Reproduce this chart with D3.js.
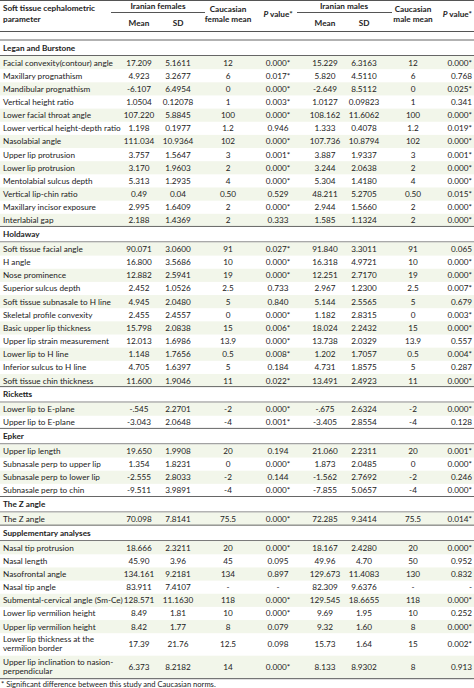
<!DOCTYPE html><html><head><meta charset="utf-8">
<script src="https://cdn.jsdelivr.net/npm/d3@7/dist/d3.min.js"></script>
<style>body{margin:0;background:#fff}text{font-family:Lato,"Open Sans",sans-serif;fill:#222}</style></head><body>
<svg id="c" width="474" height="688"></svg>
<script>
const columns=["Mean","SD","Caucasian female mean","P value*","Mean","SD","Caucasian male mean","P value*"];
const sections=["Legan and Burstone","Holdaway","Ricketts","Epker","The Z angle","Supplementary analyses"];
const rows=[
[0,"Facial convexity(contour) angle","17.209","5.1611","12","0.000*","15.229","6.3163","12","0.000*"],
[0,"Maxillary prognathism","4.923","3.2677","6","0.017*","5.820","4.5110","6","0.768"],
[0,"Mandibular prognathism","-6.107","6.4954","0","0.000*","-2.649","8.5112","0","0.025*"],
[0,"Vertical height ratio","1.0504","0.12078","1","0.003*","1.0127","0.09823","1","0.341"],
[0,"Lower facial throat angle","107.220","5.8845","100","0.000*","108.162","11.6062","100","0.000*"],
[0,"Lower vertical height-depth ratio","1.198","0.1977","1.2","0.946","1.333","0.4078","1.2","0.019*"],
[0,"Nasolabial angle","111.034","10.9364","102","0.000*","107.736","10.8794","102","0.000*"],
[0,"Upper lip protrusion","3.757","1.5647","3","0.001*","3.887","1.9337","3","0.001*"],
[0,"Lower lip protrusion","3.170","1.9603","2","0.000*","3.244","2.0638","2","0.000*"],
[0,"Mentolabial sulcus depth","5.313","1.2935","4","0.000*","5.304","1.4180","4","0.000*"],
[0,"Vertical lip-chin ratio","0.49","0.04","0.50","0.529","48.211","5.2705","0.50","0.015*"],
[0,"Maxillary incisor exposure","2.995","1.6409","2","0.000*","2.944","1.5660","2","0.000*"],
[0,"Interlabial gap","2.188","1.4369","2","0.333","1.585","1.1324","2","0.000*"],
[1,"Soft tissue facial angle","90.071","3.0600","91","0.027*","91.840","3.3011","91","0.065"],
[1,"H angle","16.800","3.5686","10","0.000*","16.318","4.9721","10","0.000*"],
[1,"Nose prominence","12.882","2.5941","19","0.000*","12.251","2.7170","19","0.000*"],
[1,"Superior sulcus depth","2.452","1.0526","2.5","0.733","2.967","1.2300","2.5","0.007*"],
[1,"Soft tissue subnasale to H line","4.945","2.0480","5","0.840","5.144","2.5565","5","0.679"],
[1,"Skeletal profile convexity","2.455","2.4557","0","0.000*","1.182","2.8315","0","0.003*"],
[1,"Basic upper lip thickness","15.798","2.0838","15","0.006*","18.024","2.2432","15","0.000*"],
[1,"Upper lip strain measurement","12.013","1.6986","13.9","0.000*","13.738","2.0329","13.9","0.557"],
[1,"Lower lip to H line","1.148","1.7656","0.5","0.008*","1.202","1.7057","0.5","0.004*"],
[1,"Inferior sulcus to H line","4.705","1.6397","5","0.184","4.731","1.8575","5","0.287"],
[1,"Soft tissue chin thickness","11.600","1.9046","11","0.022*","13.491","2.4923","11","0.000*"],
[2,"Lower lip to E-plane","-.545","2.2701","-2","0.000*","-.675","2.6324","-2","0.000*"],
[2,"Upper lip to E-plane","-3.043","2.0648","-4","0.001*","-3.405","2.8554","-4","0.128"],
[3,"Upper lip length","19.650","1.9908","20","0.194","21.060","2.2311","20","0.001*"],
[3,"Subnasale perp to upper lip","1.354","1.8231","0","0.000*","1.873","2.0485","0","0.000*"],
[3,"Subnasale perp to lower lip","-2.555","2.8033","-2","0.144","-1.562","2.7692","-2","0.246"],
[3,"Subnasale perp to chin","-9.511","3.9891","-4","0.000*","-7.855","5.0657","-4","0.000*"],
[4,"The Z angle","70.098","7.8141","75.5","0.000*","72.285","9.3414","75.5","0.014*"],
[5,"Nasal tip protrusion","18.666","2.3211","20","0.000*","18.167","2.4280","20","0.000*"],
[5,"Nasal length","45.90","3.96","45","0.095","49.96","4.70","50","0.952"],
[5,"Nasofrontal angle","134.161","9.2181","134","0.897","129.673","11.4083","130","0.832"],
[5,"Nasal tip angle","83.911","7.4107","-","-","82.309","9.6376","-","-"],
[5,"Submental-cervical angle (Sm-Ce)","128.571","11.1630","118","0.000*","129.545","18.6655","118","0.000*"],
[5,"Lower lip vermilion height","8.49","1.81","10","0.000*","9.69","1.95","10","0.252"],
[5,"Upper lip vermilion height","8.42","1.77","8","0.079","9.32","1.60","8","0.000*"],
[5,"Lower lip thickness at the|vermilion border","17.39","21.76","12.5","0.098","15.73","1.64","15","0.002*"],
[5,"Upper lip inclination to nasion-|perpendicular","6.373","8.2182","14","0.000*","8.133","8.9302","8","0.913"]
];
const footnote="* Significant difference between this study and Caucasian norms.";

const svg=d3.select("#c");
const xs=d3.scaleOrdinal().domain(d3.range(8)).range([139,178,228,278,325,364,413,459]);
let items=[],y=40.5,prev=-1;
rows.forEach(r=>{
  if(r[0]!==prev){items.push({type:"sec",name:sections[r[0]],y0:y,h:15.5});y+=15.5;prev=r[0];}
  const two=r[1].includes("|");const h=two?22.5:13.15;
  items.push({type:"row",r,y0:y,h});y+=h;
});
const fs=8.2;
svg.append("line").attr("x1",0).attr("x2",474).attr("y1",0.5).attr("y2",0.5).attr("stroke","#555");
svg.append("text").attr("x",3).attr("y",11).attr("font-weight","bold").attr("font-size",fs).text("Soft tissue cephalometric");
svg.append("text").attr("x",3).attr("y",22).attr("font-weight","bold").attr("font-size",fs).text("parameter");
[["Iranian females",158,111,205],["Iranian males",344,297,392]].forEach(g=>{
  svg.append("text").attr("x",g[1]).attr("y",9).attr("text-anchor","middle").attr("font-weight","bold").attr("font-size",fs).text(g[0]);
  svg.append("line").attr("x1",g[2]).attr("x2",g[3]).attr("y1",12.5).attr("y2",12.5).attr("stroke","#555");
});
[0,1,4,5].forEach(i=>svg.append("text").attr("x",xs(i)).attr("y",26).attr("text-anchor","middle").attr("font-weight","bold").attr("font-size",fs).text(columns[i]));
[[2,"Caucasian","female mean"],[6,"Caucasian","male mean"]].forEach(c=>{
  svg.append("text").attr("x",xs(c[0])).attr("y",12).attr("text-anchor","middle").attr("font-weight","bold").attr("font-size",fs).text(c[1]);
  svg.append("text").attr("x",xs(c[0])).attr("y",22).attr("text-anchor","middle").attr("font-weight","bold").attr("font-size",fs).text(c[2]);
});
[3,7].forEach(i=>{const t=svg.append("text").attr("x",i===7?472:xs(i)).attr("y",17).attr("text-anchor",i===7?"end":"middle").attr("font-weight","bold").attr("font-size",fs);
  t.append("tspan").attr("font-style","italic").text("P");t.append("tspan").text(" value*");});
svg.append("line").attr("x1",0).attr("x2",474).attr("y1",31.5).attr("y2",31.5).attr("stroke","#555");
let alt=0;
items.forEach(it=>{
  if(it.type==="sec"){
    alt=0;
    svg.append("line").attr("x1",0).attr("x2",474).attr("y1",it.y0-0.5).attr("y2",it.y0-0.5).attr("stroke","#666");
    svg.append("text").attr("x",3).attr("y",it.y0+10).attr("font-weight","bold").attr("font-size",fs).text(it.name);
    svg.append("line").attr("x1",0).attr("x2",474).attr("y1",it.y0+it.h-0.5).attr("y2",it.y0+it.h-0.5).attr("stroke","#666");
    return;
  }
  if(alt%2===0) svg.append("rect").attr("x",0).attr("y",it.y0).attr("width",474).attr("height",it.h).attr("fill","#f2f6ea");
  alt++;
  const lines=it.r[1].split("|");
  const mid=it.y0+it.h/2+3;
  lines.forEach((l,k)=>svg.append("text").attr("x",3).attr("y",lines.length>1?it.y0+9+k*9:mid).attr("font-size",fs).text(l));
  it.r.slice(2).forEach((v,i)=>svg.append("text").attr("x",i===7?472:xs(i)).attr("y",mid).attr("text-anchor",i===7?"end":"middle").attr("font-size",fs).text(v));
});
svg.append("line").attr("x1",0).attr("x2",474).attr("y1",y+0.5).attr("y2",y+0.5).attr("stroke","#555");
svg.append("text").attr("x",1).attr("y",y+9).attr("font-size",7.6).text(footnote);
</script></body></html>
